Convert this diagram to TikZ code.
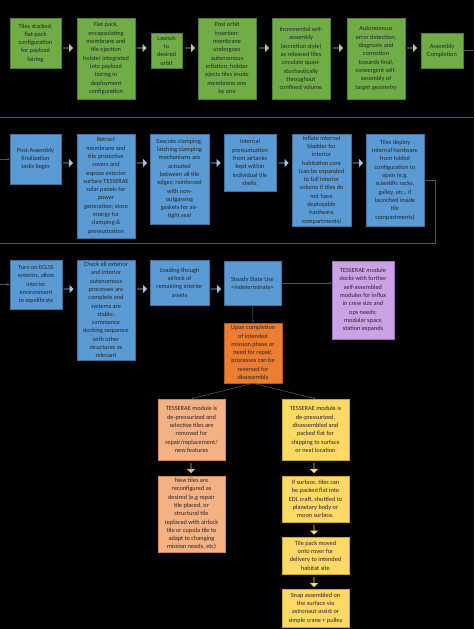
\documentclass[tikz,border=0pt]{standalone}
\usepackage{fontspec}
\usepackage{xcolor}
\usepackage{tikz}
\usetikzlibrary{arrows.meta, shapes.arrows}
\setmainfont{Carlito}

\definecolor{txt}{HTML}{262626}
\definecolor{ggreen}{HTML}{70AD47}
\definecolor{ggreenD}{HTML}{507E32}
\definecolor{ggreenL}{HTML}{A9D18E}
\definecolor{bblue}{HTML}{5B9BD5}
\definecolor{bblueD}{HTML}{41719C}
\definecolor{bblueL}{HTML}{9DC3E6}
\definecolor{oorange}{HTML}{ED7D31}
\definecolor{oorangeD}{HTML}{AE5A21}
\definecolor{llorange}{HTML}{F4B183}
\definecolor{llorangeD}{HTML}{C9895C}
\definecolor{yyellow}{HTML}{FFD966}
\definecolor{yyellowD}{HTML}{C9A63C}
\definecolor{ppurple}{HTML}{CBA2E6}
\definecolor{ppurpleD}{HTML}{9B72B8}
\definecolor{conncol}{HTML}{44546A}

\begin{document}
\begin{tikzpicture}[x=1pt, y=-1pt, >={Stealth[length=2.5pt, width=2.5pt]},
    box/.style={draw, line width=0.5pt, text=txt, align=center, inner sep=1pt,
        font=\fontsize{6.3}{8.3}\selectfont},
    gbox/.style={box, fill=ggreen, draw=ggreenD},
    bbox/.style={box, fill=bblue, draw=bblueD},
    obox/.style={box, fill=oorange, draw=oorangeD},
    lbox/.style={box, fill=llorange, draw=llorangeD},
    ybox/.style={box, fill=yyellow, draw=yyellowD},
    pbox/.style={box, fill=ppurple, draw=ppurpleD},
    barrow/.style={single arrow, inner sep=0pt, minimum height=10pt, minimum width=8pt,
        single arrow head extend=2pt},
    conn/.style={conncol, line width=0.6pt, ->}]
    \path[use as bounding box, fill=black] (0,0) rectangle (474,629);
    \clip (0,0) rectangle (474,629);

    % assembly
    \node [gbox, minimum width=51, minimum height=50] (stacked) at (35.5,43) {Tiles stacked,\\flat-pack\\configuration\\for payload\\fairing};
    \node [gbox, minimum width=58, minimum height=81] (flatpack) at (106,58.5) {Flat pack,\\encapsulating\\membrane and\\tile ejection\\holster integrated\\into payload\\fairing in\\deployment\\configuration};
    \node [gbox, minimum width=31, minimum height=35] (launch) at (166.5,50.5) {Launch\\to\\desired\\orbit};
    \node [gbox, minimum width=58, minimum height=81] (insertion) at (227,58.5) {Post orbit\\insertion:\\membrane\\undergoes\\autonomous\\inflation; holster\\ejects tiles inside\\membrane one\\by one};
    \node [gbox, minimum width=58, minimum height=81] (accretion) at (301,58.5) {Incremental self-\\assembly\\(accretion style)\\as released tiles\\circulate quasi-\\stochastically\\throughout\\confined volume};
    \node [gbox, minimum width=58, minimum height=81] (correction) at (376,58.5) {Autonomous\\error detection,\\diagnosis and\\correction\\towards final,\\convergent self-\\assembly of\\target geometry};
    \node [gbox, minimum width=42, minimum height=35] (done) at (442,50.5) {Assembly\\Completion};
    \foreach \x in {68,141.5,190,264,338,412}
        \node [barrow, fill=ggreenL] at (\x,48) {};

    % post-assembly
    \node [bbox, minimum width=51, minimum height=50] (post) at (35.5,159) {Post-Assembly\\finalization\\tasks begin};
    \node [bbox, minimum width=58, minimum height=104] (retract) at (106,186) {Retract\\membrane and\\tile protective\\covers and\\expose exterior\\surface TESSERAE\\solar panels for\\power\\generation; store\\energy for\\clamping \&\\pressurization};
    \node [bbox, minimum width=59, minimum height=90] (clamp) at (179.5,179) {Execute clamping;\\latching clamping\\mechanisms are\\actuated\\between all tile\\edges; reinforced\\with non-\\outgassing\\gaskets for air-\\tight seal};
    \node [bbox, minimum width=52, minimum height=57] (press) at (250,162.5) {Internal\\pressurization\\from airtanks\\kept within\\individual tile\\shells.};
    \node [bbox, minimum width=59, minimum height=92] (bladder) at (321.5,180) {Inflate internal\\bladder for\\interior\\habitation core\\(can be expanded\\to full interior\\volume if tiles do\\not have\\deployable\\hardware\\compartments)};
    \node [bbox, minimum width=58, minimum height=92] (deploy) at (395,180) {Tiles deploy\\internal hardware\\from folded\\configuration to\\open (e.g.\\scientific racks,\\galley, etc., if\\launched inside\\tile\\compartments)};
    \foreach \x in {68,142,215.5,283.5,358}
        \node [barrow, fill=bblueL] at (\x,163) {};

    % use
    \node [bbox, minimum width=52, minimum height=49] (eclss) at (36,284.5) {Turn on ECLSS\\systems, allow\\interior\\environment\\to equilibrate};
    \node [bbox, minimum width=58, minimum height=100] (check) at (106,310) {Check all exterior\\and interior\\autonomous\\processes are\\complete and\\systems are\\stable;\\commence\\docking sequence\\with other\\structures as\\relevant};
    \node [bbox, minimum width=59, minimum height=45] (loading) at (179.5,282.5) {Loading though\\airlock of\\remaining interior\\assets};
    \node [bbox, minimum width=57, minimum height=44] (steady) at (252.5,283) {Steady State Use\\<indeterminate>};
    \node [pbox, minimum width=62, minimum height=78] (docks) at (363,300) {TESSERAE module\\docks with further\\self-assembled\\modules for influx\\in crew size and\\ops needs;\\modular space\\station expands};
    \node [obox, minimum width=58, minimum height=60] (reverse) at (253,353) {Upon completion\\of intended\\mission phase or\\need for repair,\\processes can be\\reversed for\\disassembly};
    \foreach \x in {68.5,142,216}
        \node [barrow, fill=bblueL] at (\x,289) {};

    % disassembly
    \node [lbox, minimum width=67, minimum height=61] (selective) at (191.5,429.5) {TESSERAE module is\\de-pressurized and\\selective tiles are\\removed for\\repair/replacement/\\new features};
    \node [lbox, minimum width=67, minimum height=76] (newtiles) at (191.5,514) {New tiles are\\reconfigured as\\desired (e.g repair\\tile placed, or\\structural tile\\replaced with airlock\\tile or cupola tile to\\adapt to changing\\mission needs, etc)};
    \node [ybox, minimum width=67, minimum height=61] (packed) at (315.5,429.5) {TESSERAE module is\\de-pressurized,\\disassembled and\\packed flat for\\shipping to surface\\or next location};
    \node [ybox, minimum width=67, minimum height=46] (edl) at (315.5,499) {If surface, tiles can\\be packed flat into\\EDL craft, shuttled to\\planetary body or\\moon surface.};
    \node [ybox, minimum width=67, minimum height=37] (rover) at (315.5,555.5) {Tile pack moved\\onto rover for\\delivery to intended\\habitat site};
    \node [ybox, minimum width=67, minimum height=38] (snap) at (315.5,608) {Snap assembled on\\the surface via\\astronaut-assist or\\simple crane + pulley};
    \node [barrow, fill=llorange, shape border rotate=270] at (191,468) {};
    \foreach \y in {468,529.5,582}
        \node [barrow, fill=yyellow, shape border rotate=270] at (314,\y) {};

    % connectors
    \draw [conn] (done.east) -- ++(30,0) |- (-10,117) |- (post.west);
    \draw [conn] (deploy.east) -| (435,243) -- (-10,243) |- (eclss.west);
    \draw [conn] (steady.east) -- (steady.east -| docks.west);
    \draw [conn] (steady.south) -- (reverse.north);
    \draw [conn] (reverse.south) -- (selective.north);
    \draw [conn] (reverse.south) -- (packed.north);
\end{tikzpicture}
\end{document}
